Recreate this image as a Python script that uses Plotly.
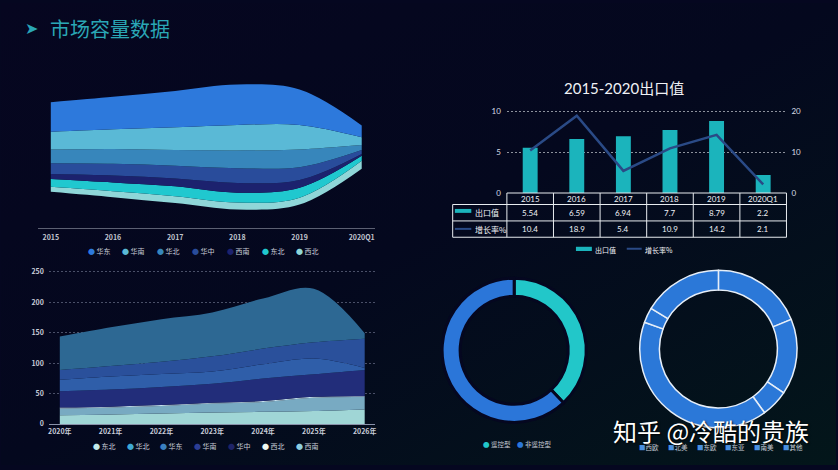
import base64
import plotly.graph_objects as go

W, H = 838, 470

# ---------------- data ----------------
stream_years = ["2015", "2016", "2017", "2018", "2019", "2020Q1"]
stream_huadong = [30, 33, 37, 41, 36, 12]
stream_huanan = [18, 20, 23, 26, 25, 8]
stream_huabei = [14, 15, 16, 18, 18, 5]
stream_huazhong = [11, 12, 13, 15, 13, 4]
stream_xinan = [5, 7, 8, 10, 8, 2]
stream_dongbei = [8, 9, 10, 10, 10, 5]
stream_xibei = [5, 6, 7, 7, 7, 8]
stream_legend = ["华东", "华南", "华北", "华中", "西南", "东北", "西北"]

fc_years = ["2020年", "2021年", "2022年", "2023年", "2024年", "2025年", "2026年"]
fc_dongbei = [14.5, 15.6, 17.2, 18.8, 20.0, 21.5, 24.0]
fc_xinan = [11.0, 11.4, 12.3, 14.7, 16.1, 21.6, 20.2]
fc_xibei = [1.5, 1.5, 1.5, 1.5, 1.5, 1.5, 1.5]
fc_huazhong = [26.8, 28.0, 29.8, 31.0, 37.1, 37.1, 43.0]
fc_huanan = [18.8, 21.5, 21.2, 20.0, 23.3, 25.8, 3.3]
fc_huabei = [16.1, 17.0, 20.0, 25.0, 25.7, 26.5, 48.0]
fc_huadong = [54.8, 63.6, 70.0, 72.0, 82.3, 88.0, 9.0]
fc_legend = ["东北", "华北", "华东", "华南", "华中", "西北", "西南"]
fc_ticks = [0, 50, 100, 150, 200, 250]

exp_years = ["2015", "2016", "2017", "2018", "2019", "2020Q1"]
exp_values = [5.54, 6.59, 6.94, 7.7, 8.79, 2.2]
exp_growth = [10.4, 18.9, 5.4, 10.9, 14.2, 2.1]

remote_labels = ["遥控型", "非遥控型"]
remote_values = [38, 62]
region_labels = ["西欧", "北美", "东欧", "东亚", "南美", "其他"]
region_values = [18.9, 15.6, 5.6, 40.6, 3.1, 16.4]

# ---------------- helpers ----------------
def dx(a, b):
    return [a / W, b / W]

def dy(top, bottom):
    return [1 - bottom / H, 1 - top / H]

def px(x):
    return x / W

def py(y):
    return 1 - y / H

FONT = "Noto Sans CJK SC, Noto Sans, sans-serif"
LATO = "Lato, Noto Sans CJK SC, sans-serif"
TXT = "#c8ccd6"

fig = go.Figure()
annotations = []
shapes = []

# ---------------- streamgraph (top-left) ----------------
sx = list(range(len(stream_years)))
stream_layers = [
    ("西北", stream_xibei, "#8fd6d8"),
    ("东北", stream_dongbei, "#20c8cf"),
    ("西南", stream_xinan, "#1c226e"),
    ("华中", stream_huazhong, "#294c9b"),
    ("华北", stream_huabei, "#3786bb"),
    ("华南", stream_huanan, "#5ab9d6"),
    ("华东", stream_huadong, "#2d79dc"),
]
stream_colors = {n: c for n, _, c in stream_layers}
totals = [sum(layer[1][i] for layer in stream_layers) for i in sx]
baseline = [-t / 2 for t in totals]
fig.add_trace(go.Scatter(x=sx, y=baseline, stackgroup="stream", mode="lines",
                         line=dict(width=0, shape="spline"), fillcolor="rgba(0,0,0,0)",
                         hoverinfo="skip", showlegend=False, xaxis="x", yaxis="y"))
for name, vals, col in stream_layers:
    fig.add_trace(go.Scatter(x=sx, y=vals, name=name, stackgroup="stream", mode="lines",
                             line=dict(width=0, shape="spline", color=col), fillcolor=col,
                             showlegend=False, xaxis="x", yaxis="y"))

for i, name in enumerate(stream_legend):
    annotations.append(dict(
        x=px(85 + i * 34.9), y=py(252), xref="paper", yref="paper", xanchor="left", yanchor="middle",
        text=f"<span style='color:{stream_colors[name]}'>●</span> {name}", showarrow=False,
        font=dict(size=7, color=TXT, family=FONT)))

# ---------------- forecast stacked area (bottom-left) ----------------
fx = list(range(len(fc_years)))
fc_layers = [
    ("东北", fc_dongbei, "#a0d6d6"),
    ("西南", fc_xinan, "#78aac2"),
    ("西北", fc_xibei, "#c4e0ee"),
    ("华中", fc_huazhong, "#222d7a"),
    ("华南", fc_huanan, "#2f5ea9"),
    ("华北", fc_huabei, "#2a509b"),
    ("华东", fc_huadong, "#2d6893"),
]
for name, vals, col in fc_layers:
    fig.add_trace(go.Scatter(x=fx, y=vals, name=name, stackgroup="fc", mode="lines",
                             line=dict(width=0, shape="spline", color=col), fillcolor=col,
                             showlegend=False, xaxis="x2", yaxis="y2"))

fc_legend_colors = {"东北": "#c4eaea", "华北": "#3ea8d4", "华东": "#3a7fc0", "华南": "#2c3e94",
                    "华中": "#1e2468", "西北": "#f0f8f0", "西南": "#8ccde0"}
for i, name in enumerate(fc_legend):
    annotations.append(dict(
        x=px(90 + i * 34.0), y=py(451), xref="paper", yref="paper", xanchor="left", yanchor="middle",
        text=f"<span style='color:{fc_legend_colors[name]}'>●</span> {name}", showarrow=False,
        font=dict(size=7, color=TXT, family=FONT)))

# ---------------- bar + line (top-right) ----------------
ex = list(range(len(exp_years)))
BAR_C = "#1bb4bc"
LINE_C = "#2a4a86"
fig.add_trace(go.Bar(x=ex, y=exp_values, name="出口值", marker=dict(color=BAR_C, line=dict(width=0)),
                     width=0.32, showlegend=False, xaxis="x3", yaxis="y3"))
fig.add_trace(go.Scatter(x=ex, y=exp_growth, name="增长率%", mode="lines",
                         line=dict(color=LINE_C, width=2.5), showlegend=False,
                         xaxis="x3", yaxis="y4"))

annotations.append(dict(x=px(625), y=py(86), xref="paper", yref="paper", text="2015-2020出口值",
                        showarrow=False, xanchor="center", yanchor="middle",
                        font=dict(size=15, color="#f0f2f6", family=LATO)))

# table under the bars
tx0, tx1, lx0 = 507.7, 788.3, 453.3
ty = [193.3, 205.0, 221.7, 238.3]
ncol = len(exp_years)
cw = (tx1 - tx0) / ncol

def hline(x0, x1, y):
    shapes.append(dict(type="line", xref="paper", yref="paper", x0=px(x0), x1=px(x1), y0=py(y), y1=py(y),
                       line=dict(color="#e8ecf0", width=1)))

def vline(x, y0, y1):
    shapes.append(dict(type="line", xref="paper", yref="paper", x0=px(x), x1=px(x), y0=py(y0), y1=py(y1),
                       line=dict(color="#e8ecf0", width=1)))

hline(tx0, tx1, ty[0])
for yv in ty[1:]:
    hline(lx0, tx1, yv)
vline(lx0, ty[1], ty[3])
for i in range(ncol + 1):
    vline(tx0 + i * cw, ty[0], ty[3])

row_mid = [(ty[0] + ty[1]) / 2, (ty[1] + ty[2]) / 2, (ty[2] + ty[3]) / 2]
for i in range(ncol):
    cx = px(tx0 + (i + 0.5) * cw)
    for txt, ym in ((exp_years[i], row_mid[0]), (str(exp_values[i]), row_mid[1]), (str(exp_growth[i]), row_mid[2])):
        annotations.append(dict(x=cx, y=py(ym), xref="paper", yref="paper", text=txt, showarrow=False,
                                xanchor="center", yanchor="middle",
                                font=dict(size=8, color="#f0f2f6", family=LATO)))

# row label icons + text
shapes.append(dict(type="rect", xref="paper", yref="paper", x0=px(455.5), x1=px(472), y0=py(213.5), y1=py(209.5),
                   fillcolor=BAR_C, line=dict(width=0)))
shapes.append(dict(type="line", xref="paper", yref="paper", x0=px(455.5), x1=px(472), y0=py(229.8), y1=py(229.8),
                   line=dict(color=LINE_C, width=2)))
annotations.append(dict(x=px(473.5), y=py(row_mid[1]), xref="paper", yref="paper", text="出口值", showarrow=False,
                        xanchor="left", yanchor="middle", font=dict(size=8, color="#f0f2f6", family=FONT)))
annotations.append(dict(x=px(473.5), y=py(row_mid[2]), xref="paper", yref="paper", text="增长率%", showarrow=False,
                        xanchor="left", yanchor="middle", font=dict(size=8, color="#f0f2f6", family=FONT)))

# bar chart legend
shapes.append(dict(type="rect", xref="paper", yref="paper", x0=px(577), x1=px(593), y0=py(252.3), y1=py(248),
                   fillcolor=BAR_C, line=dict(width=0)))
annotations.append(dict(x=px(594.5), y=py(251), xref="paper", yref="paper", text="出口值", showarrow=False,
                        xanchor="left", yanchor="middle", font=dict(size=7, color="#f0f2f6", family=FONT)))
shapes.append(dict(type="line", xref="paper", yref="paper", x0=px(628), x1=px(643), y0=py(250), y1=py(250),
                   line=dict(color=LINE_C, width=2)))
annotations.append(dict(x=px(644), y=py(251), xref="paper", yref="paper", text="增长率%", showarrow=False,
                        xanchor="left", yanchor="middle", font=dict(size=7, color="#f0f2f6", family=FONT)))

# ---------------- donut 1 ----------------
BG0 = "#050720"
remote_colors = ["#22c7c9", "#2b76d9"]
fig.add_trace(go.Pie(labels=remote_labels, values=remote_values, hole=0.75, sort=False,
                     direction="clockwise", rotation=0, textinfo="none", textposition="none",
                     marker=dict(colors=remote_colors, line=dict(color=BG0, width=3)),
                     domain=dict(x=dx(441.7, 588.3), y=dy(280, 426.6)), showlegend=False,
                     hoverinfo="label+percent"))
for i, name in enumerate(remote_labels):
    annotations.append(dict(
        x=px(481.5 + i * 34.3), y=py(448.5), xref="paper", yref="paper", xanchor="left", yanchor="middle",
        text=f"<span style='color:{remote_colors[i]}'>●</span> {name}", showarrow=False,
        font=dict(size=6.5, color=TXT, family=FONT)))

# ---------------- donut 2 ----------------
fig.add_trace(go.Pie(labels=region_labels, values=region_values, hole=0.75, sort=False,
                     direction="clockwise", rotation=0, textinfo="none", textposition="none",
                     marker=dict(colors=["#2b78d8"] * len(region_labels), line=dict(color="#e6eef8", width=1.5)),
                     domain=dict(x=dx(640, 800), y=dy(272, 432)), showlegend=False,
                     hoverinfo="label+percent"))
for i, name in enumerate(region_labels):
    annotations.append(dict(
        x=px(638.5 + i * 28.8), y=py(452), xref="paper", yref="paper", xanchor="left", yanchor="middle",
        text=f"<span style='color:#4a90e0'>■</span>{name}", showarrow=False,
        font=dict(size=6.5, color=TXT, family=FONT)))

# ---------------- title + watermark ----------------
annotations.append(dict(x=px(31), y=py(25.5), xref="paper", yref="paper", text="➤", showarrow=False,
                        xanchor="center", yanchor="middle", font=dict(size=16, color="#2aa7b6", family="DejaVu Sans")))
annotations.append(dict(x=px(47), y=py(25.5), xref="paper", yref="paper", text="市场容量数据", showarrow=False,
                        xanchor="left", yanchor="middle", font=dict(size=20, color="#2aa7b6", family=FONT)))
annotations.append(dict(x=px(713), y=py(435), xref="paper", yref="paper", text="知乎 @冷酷的贵族", showarrow=False,
                        xanchor="center", yanchor="middle",
                        font=dict(size=24, color="#ffffff", family=FONT, shadow="1px 1px 2px #000000")))

# ---------------- background gradient ----------------
svg = (
    f'<svg xmlns="http://www.w3.org/2000/svg" width="{W}" height="{H}">'
    '<defs><linearGradient id="g" x1="0" y1="0" x2="1" y2="1">'
    '<stop offset="0" stop-color="#060620"/><stop offset="0.5" stop-color="#04081e"/>'
    '<stop offset="1" stop-color="#03161a"/></linearGradient></defs>'
    f'<rect width="{W}" height="{H}" fill="url(#g)"/></svg>'
)
bg_uri = "data:image/svg+xml;base64," + base64.b64encode(svg.encode()).decode()

# ---------------- layout ----------------
fig.update_layout(
    width=W, height=H, margin=dict(l=0, r=0, t=0, b=0),
    paper_bgcolor=BG0, plot_bgcolor="rgba(0,0,0,0)",
    font=dict(family=FONT, color=TXT),
    showlegend=False, hovermode="closest",
    images=[dict(source=bg_uri, xref="paper", yref="paper", x=0, y=1, sizex=1, sizey=1,
                 sizing="stretch", layer="below", xanchor="left", yanchor="top")],
    xaxis=dict(domain=dx(37, 375), range=[-0.208, 5.208], tickvals=sx, ticktext=stream_years,
               showgrid=False, zeroline=False, showline=True, linecolor="#5c6072", linewidth=1,
               ticks="", tickfont=dict(size=7, color="#c2c6d0", family=FONT, weight="bold"),
               ticklabelstandoff=2, fixedrange=True),
    yaxis=dict(domain=dy(78, 229), range=[-82.5, 68.5], visible=False, fixedrange=True),
    xaxis2=dict(domain=dx(48, 375), range=[-0.216, 6.196], tickvals=fx, ticktext=fc_years,
                showgrid=False, zeroline=False, showline=True, linecolor="#8a92aa", linewidth=1,
                ticks="", tickfont=dict(size=7, color="#c8ccd8", family=FONT, weight="bold"),
                ticklabelstandoff=1, anchor="y2", fixedrange=True),
    yaxis2=dict(domain=dy(270, 428.3), range=[0, 255.3], tickvals=fc_ticks, showgrid=True,
                gridcolor="#4a5068", griddash="2px,2px", gridwidth=0.8, zeroline=False, showline=False,
                ticks="", tickfont=dict(size=7, color="#c8ccd8", family=FONT, weight="bold"),
                ticklabelstandoff=4, anchor="x2", fixedrange=True),
    xaxis3=dict(domain=dx(tx0, tx1), range=[-0.5, 5.5], showticklabels=False, showgrid=False,
                zeroline=False, showline=False, ticks="", anchor="y3", fixedrange=True),
    yaxis3=dict(domain=dy(193.3 - 10.3 * 8.33, 193.3), range=[0, 10.3], tickvals=[0, 5, 10],
                showgrid=True, gridcolor="#8c919c", griddash="2px,2px", gridwidth=0.7, zeroline=False,
                showline=False, ticks="", tickfont=dict(size=8, color="#d8dce6", family=LATO),
                ticklabelstandoff=5, anchor="x3", fixedrange=True),
    yaxis4=dict(range=[0, 20.6], tickvals=[0, 10, 20], overlaying="y3", side="right", anchor="x3",
                showgrid=False, zeroline=False, showline=False, ticks="",
                tickfont=dict(size=8, color="#d8dce6", family=LATO), ticklabelstandoff=4, fixedrange=True),
    annotations=annotations,
    shapes=shapes,
)

fig.write_html("out.html")
